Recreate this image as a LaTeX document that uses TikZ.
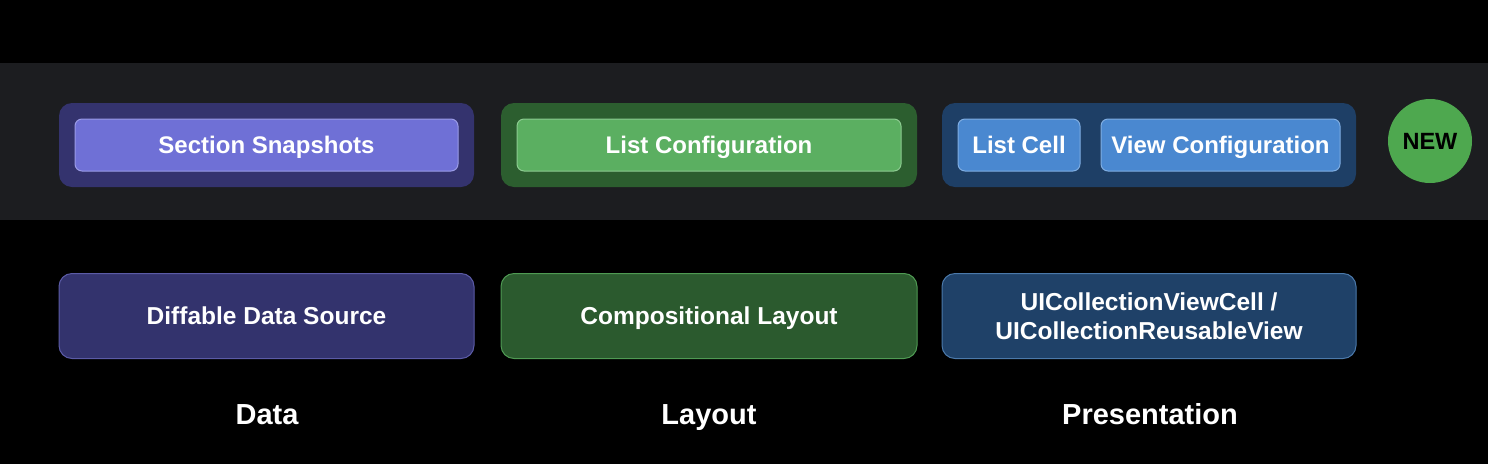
\documentclass[tikz,border=0pt]{standalone}
\usepackage{fontspec}
\setmainfont{Liberation Sans}

\definecolor{bandgray}{HTML}{1C1D20}
\definecolor{dataouter}{HTML}{34336E}
\definecolor{datainner}{HTML}{6F70D6}
\definecolor{dataline}{HTML}{9A9BE6}
\definecolor{datadark}{HTML}{33336D}
\definecolor{dataedge}{HTML}{5B5BA6}
\definecolor{layouter}{HTML}{2C5E2F}
\definecolor{layinner}{HTML}{5BAF61}
\definecolor{layline}{HTML}{8CCB90}
\definecolor{laydark}{HTML}{2B5A2E}
\definecolor{layedge}{HTML}{4F9A53}
\definecolor{presouter}{HTML}{1E3F66}
\definecolor{presinner}{HTML}{4A88D0}
\definecolor{presline}{HTML}{7FADE2}
\definecolor{presdark}{HTML}{1F4168}
\definecolor{presedge}{HTML}{4B79AA}
\definecolor{newgreen}{HTML}{4EA84F}

\tikzset{
  outerbox/.style={rounded corners=13pt, minimum height=84pt, inner sep=0pt},
  innerbox/.style={rounded corners=7pt, minimum height=52pt, inner sep=0pt, line width=1pt,
    text=white, text height=17.2pt, text depth=0pt, font=\fontsize{24}{28}\selectfont\bfseries},
  basebox/.style={rounded corners=13pt, minimum width=415pt, minimum height=85pt, line width=1pt,
    text=white, align=center, font=\fontsize{24.5}{29}\selectfont\bfseries},
  onelinebox/.style={basebox, text height=17.5pt, text depth=0pt},
  layername/.style={text=white, text height=20.8pt, text depth=0pt, font=\fontsize{29}{33}\selectfont\bfseries}
}

\begin{document}
\begin{tikzpicture}[x=1pt, y=-1pt]
                \fill [black] (0, 0) rectangle (1488, 464);
                \useasboundingbox (0, 0) rectangle (1488, 464);

                \fill [bandgray] (0, 63) rectangle (1488, 220);

                % new features row
                \node [outerbox, fill=dataouter, minimum width=415pt] (snapOuter) at (266.5, 145) {};
                \node [innerbox, fill=datainner, draw=dataline, minimum width=383pt] (snapshots) at (266.5, 145) {Section Snapshots};

                \node [outerbox, fill=layouter, minimum width=416pt] (listOuter) at (709, 145) {};
                \node [innerbox, fill=layinner, draw=layline, minimum width=384pt] (listConfig) at (709, 145) {List Configuration};

                \node [outerbox, fill=presouter, minimum width=414pt] (cellOuter) at (1149, 145) {};
                \node [innerbox, fill=presinner, draw=presline, minimum width=122pt] (listCell) at (1019, 145) {List Cell};
                \node [innerbox, fill=presinner, draw=presline, minimum width=239pt] (viewConfig) at (1220.5, 145) {View Configuration};

                \node [circle, fill=newgreen, minimum size=84pt, inner sep=0pt, text height=16.8pt, text depth=0pt,
                       font=\fontsize{23.5}{27}\selectfont\bfseries] (newBadge) at (1430, 141) {NEW};

                % existing API row
                \node [onelinebox, fill=datadark, draw=dataedge] (diffable) at (266.5, 316) {Diffable Data Source};
                \node [onelinebox, fill=laydark, draw=layedge, minimum width=416pt] (compLayout) at (709, 316) {Compositional Layout};
                \node [basebox, fill=presdark, draw=presedge, minimum width=414pt] (cellView) at (1149, 316) {UICollectionViewCell /\\UICollectionReusableView};

                \node [layername] (dataLabel) at (267, 414) {Data};
                \node [layername] (layoutLabel) at (709, 414) {Layout};
                \node [layername] (presLabel) at (1150, 414) {Presentation};
            \end{tikzpicture}
\end{document}
